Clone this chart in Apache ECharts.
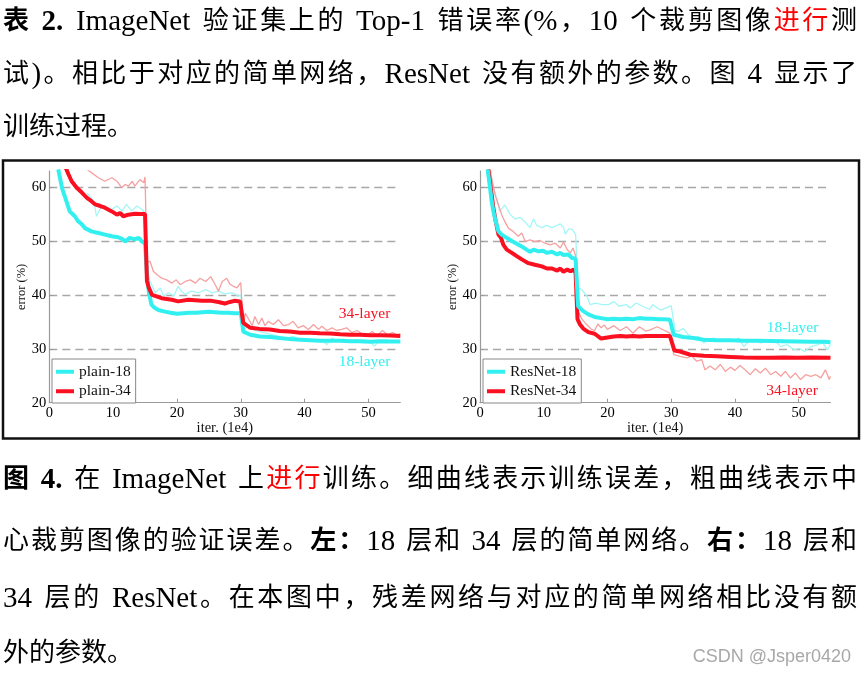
<!DOCTYPE html>
<html>
<head>
<meta charset="utf-8">
<script src="https://cdn.jsdelivr.net/npm/echarts@6/dist/echarts.min.js"></script>
<style>
html,body{margin:0;padding:0;background:#fff;}
#main{width:865px;height:677px;}
</style>
</head>
<body>
<div id="main"></div>
<script>
// ---------- axis ticks ----------
const xTickValues = [0, 10, 20, 30, 40, 50];
const yTickValues = [20, 30, 40, 50, 60];

// ---------- Left chart: plain networks ----------
const plain18ValX = [1.4,2.0,2.5,3.2,4.0,4.5,5.1,5.6,6.6,7.7,8.7,9.8,10.8,11.4,11.9,12.6,13.4,14.0,14.5,15.0,15.3,15.6,16.0,16.5,17.1,18.1,19,20,21,22,23,24,25,26,27,28,29,30.0,30.4,31.5,33.0,34.6,36.1,37.7,39.3,40.9,42.4,44.0,45.6,47.2,48.7,50.3,51.9,53.5,55];
const plain18ValY = [63.3,59.8,58.0,55.5,54.6,53.7,53.1,52.4,51.8,51.5,51.2,50.9,50.7,50.4,49.9,50.6,50.3,50.6,49.95,49.5,44.0,40.5,38.2,37.6,37.2,36.9,36.7,36.5,36.6,36.7,36.7,36.8,36.9,36.8,36.7,36.7,36.6,36.6,33.2,32.6,32.3,32.2,32.0,31.8,31.7,31.6,31.5,31.5,31.5,31.4,31.4,31.3,31.4,31.35,31.35];

const plain34ValX = [2.6,3.0,3.5,4.3,5.1,5.9,6.6,7.2,8.0,8.7,9.8,10.6,11.1,11.6,12.4,13.4,14.2,15.0,15.3,15.6,16.1,17.6,19.2,20.2,21.8,23.9,25.4,26.5,27.5,28.3,29.0,29.9,30.4,31.5,33.0,34.6,36.1,37.7,39.3,40.9,42.4,44.0,45.6,47.2,48.7,50.3,51.9,53.5,55];
const plain34ValY = [63.5,62.4,61.1,59.9,59.0,58.0,57.4,56.8,56.5,56.2,55.5,54.9,55.2,54.6,54.9,55.05,55.0,55.0,42.6,41.3,40.0,39.4,39.1,38.8,39.1,38.9,38.9,38.7,38.4,38.7,38.9,38.8,34.8,33.9,33.7,33.6,33.3,33.2,33.0,33.0,32.9,32.85,32.7,32.6,32.6,32.5,32.5,32.45,32.4];

const plain18TrainX = [5.9,6.6,7.0,7.4,7.95,8.7,9.3,9.8,10.6,11.4,12.1,12.9,13.7,14.5,14.9,15.1,15.5,16.05,16.6,17.4,17.9,18.7,19.5,20.2,20.7,21.3,22.3,23.4,24.5,25.5,26.5,27.5,28.3,28.85,29.6,30.0,30.4,31.2,32.0,33.0,34.0,35.1,36.1,37.2,38.2,39.3,40.3,41.4,42.4,43.5,44.3,45.0,46.1,47.2,48.2,49.3,50.3,50.9,51.7,53.0,54.0,55];
const plain18TrainY = [58.9,58.0,57.2,54.6,56.0,56.5,55.6,55.9,56.5,55.6,56.8,55.6,56.5,55.9,55.3,55.6,43.1,41.9,40.4,41.3,39.8,40.4,39.8,41.6,40.7,40.1,40.7,40.4,41.0,40.4,40.7,40.2,40.4,40.35,39.75,40.0,33.5,34.4,33.5,33.2,32.9,32.6,32.2,32.0,32.3,31.7,31.8,31.6,31.7,30.8,32.0,31.4,31.8,31.4,31.7,31.1,31.4,30.5,31.4,31.6,31.2,31.4];

const plain34TrainX = [5.9,6.6,7.7,8.7,9.8,10.6,11.35,11.9,12.4,13.0,13.4,14.2,14.8,15.0,15.3,15.8,16.3,16.85,17.6,18.4,19.2,19.9,20.5,21.3,22.1,22.9,23.6,24.5,25.3,26.0,26.5,27.1,27.8,28.3,28.85,29.4,30.0,30.4,30.7,31.3,31.8,32.2,32.8,33.3,33.8,34.3,35.1,35.9,36.7,37.5,38.2,39.0,39.8,40.6,41.4,42.2,42.7,43.5,44.3,45.0,45.8,46.6,47.4,48.2,49.0,49.8,50.6,51.4,52.2,53.0,53.8,54.5,55];
const plain34TrainY = [63.3,62.7,61.75,61.1,61.75,61.1,59.9,60.5,60.2,61.1,60.2,61.4,60.8,61.9,46.2,46.2,44.4,43.8,43.1,42.8,42.2,42.8,41.9,42.5,42.8,42.2,43.1,42.5,43.4,41.9,40.7,42.5,43.1,42.0,41.6,41.3,42.3,34.1,36.6,35.4,34.3,36.0,34.5,35.7,34.3,35.1,34.5,35.4,34.3,34.5,35.1,33.9,34.3,33.6,34.5,33.6,34.2,33.4,33.9,33.4,33.6,33.9,33.0,33.4,32.8,32.5,33.2,32.4,33.4,32.6,33.0,32.6,32.8];

// ---------- Right chart: ResNets ----------
const res18ValX = [1.2,1.57,1.83,2.1,2.46,2.9,3.4,4.2,5.0,5.76,6.55,7.3,7.85,8.4,9.2,9.9,10.5,11.3,12.1,12.6,13.1,13.9,14.4,15.0,15.4,16.2,17.0,18.0,19,20,21,22,23,24,25,26,27,28,29,29.8,30.4,31.9,33.5,35.1,37.2,39.3,41.4,43.5,45.6,47.7,49.8,51.9,54.0,55];
const res18ValY = [63.3,59.9,57.4,55.5,53.7,51.8,51.2,50.6,50.0,49.5,49.0,48.4,48.0,48.4,48.1,48.2,47.8,48.0,47.5,47.8,47.4,47.5,46.9,46.7,37.9,37.0,36.4,35.9,35.7,35.5,35.6,35.5,35.6,35.5,35.7,35.6,35.6,35.5,35.5,35.4,32.6,32.2,32.0,31.7,31.6,31.6,31.5,31.5,31.45,31.4,31.35,31.3,31.3,31.2];

const res34ValX = [1.3,1.83,2.1,2.46,2.9,3.3,3.67,4.2,5.0,5.76,6.55,7.6,8.6,9.7,10.5,11.3,12.1,12.6,13.1,13.7,14.2,14.7,15.0,15.3,15.7,16.2,17.0,18.0,19.0,20.0,21,22,23,24,25,26,27,28,29,29.8,30.5,31.4,33.0,35.1,37.2,39.3,41.4,43.5,45.6,47.7,49.8,51.9,55];
const res34ValY = [63.3,58.6,56.1,53.7,51.2,50.6,49.3,48.4,47.8,47.2,46.6,45.9,45.6,45.3,44.9,44.9,44.5,44.9,44.3,44.7,44.4,44.7,44.1,35.5,34.5,33.75,33.1,32.8,31.9,32.1,32.3,32.4,32.3,32.4,32.3,32.4,32.4,32.4,32.4,32.4,29.7,29.5,28.9,28.7,28.6,28.5,28.4,28.35,28.35,28.4,28.35,28.4,28.35];

const res18TrainX = [1.0,1.83,2.6,3.1,3.9,4.7,5.5,6.3,7.1,7.85,8.4,8.9,9.7,10.5,11.3,12.1,12.6,13.1,13.4,13.9,14.4,15.0,15.4,15.96,16.75,17.3,18.1,19.2,20.2,21.0,21.8,22.9,23.6,24.5,25.5,26.6,27.1,28.3,29.6,30.0,30.6,31.1,31.9,32.7,33.5,34.3,35.1,35.9,36.7,37.7,38.8,39.8,40.6,41.4,42.2,42.9,44.0,45.0,46.1,47.2,48.2,49.3,50.1,50.9,51.9,53.0,53.8,54.5,55];
const res18TrainY = [64,61.1,58.0,55.5,56.7,55.0,54.1,54.4,53.5,52.5,54.1,52.9,52.5,52.9,52.5,52.9,53.2,52.5,51.3,52.2,52.2,51.3,41.3,41.0,39.8,38.2,38.5,38.2,38.2,38.8,37.9,38.2,37.6,38.5,37.9,37.3,38.2,37.2,37.8,38.0,33.5,33.2,33.8,32.6,32.0,32.3,31.1,31.7,32.0,31.4,31.7,31.4,32.0,30.4,31.4,31.7,31.1,31.4,31.7,30.4,30.8,29.8,30.1,29.5,30.4,30.8,31.1,29.8,30.8];

const res34TrainX = [1.5,1.83,2.36,2.9,3.4,3.9,4.45,5.2,6.0,6.55,7.1,7.85,8.6,9.4,10.2,11.0,11.8,12.6,13.1,13.7,14.2,14.6,15.0,15.4,16.0,16.5,17.0,17.5,18.0,18.5,19.0,19.5,20.0,21.0,22.0,23.0,24.0,25.0,26.0,26.7,27.8,28.8,29.8,30.4,31.4,32.5,33.2,34.0,34.8,35.3,36.1,36.9,37.7,38.5,39.3,40.0,40.8,41.6,42.4,43.2,44.0,44.8,45.6,46.4,47.2,47.9,48.7,49.5,50.3,51.1,51.9,52.7,53.5,54.2,54.8,55];
const res34TrainY = [64,61.7,58.6,56.7,54.9,53.6,52.4,51.8,50.9,51.5,49.9,50.2,49.9,50.1,49.6,49.3,49.6,48.7,49.8,48.4,47.8,48.7,47.3,37.0,35.5,34.8,34.2,33.6,33.4,34.6,33.9,34.4,33.6,34.3,33.4,34.1,32.9,34.1,33.3,33.5,34.1,33.5,32.9,28.9,28.6,28.3,28.7,27.7,28.0,26.1,26.8,26.1,27.1,25.8,26.6,26.0,26.9,26.1,25.2,26.3,25.5,26.4,25.2,25.8,24.9,25.8,24.6,25.5,24.3,25.2,24.9,25.2,24.6,26.1,24.3,24.9];

// ---------- Text ----------
const topLines = [
  [{t:'表 2.', b:true}, {t:' ImageNet 验证集上的 Top-1 错误率(%，10 个裁剪图像'}, {t:'进行', c:'#ff0000'}, {t:'测'}],
  [{t:'试)。相比于对应的简单网络，ResNet 没有额外的参数。图 4 显示了'}],
  [{t:'训练过程。'}]
];
const bottomLines = [
  [{t:'图 4.', b:true}, {t:' 在 ImageNet 上'}, {t:'进行', c:'#ff0000'}, {t:'训练。细曲线表示训练误差，粗曲线表示中'}],
  [{t:'心裁剪图像的验证误差。'}, {t:'左：', b:true}, {t:'18 层和 34 层的简单网络。'}, {t:'右：', b:true}, {t:'18 层和'}],
  [{t:'34 层的 ResNet。在本图中，残差网络与对应的简单网络相比没有额'}],
  [{t:'外的参数。'}]
];

// ---------- colors ----------
const CYAN = '#33f0f0', RED = '#fa1020', CYAN_T = '#a4f6f6', RED_T = '#f6a0a0';
const SERIF = "'Liberation Serif','Noto Sans CJK SC',serif";
const CJK_SIZE = 26, LATIN_SIZE = 29;

const mctx = document.createElement('canvas').getContext('2d');
function fontStr(size, bold){ return (bold ? 'bold ' : '') + size + 'px ' + SERIF; }
function isCJK(ch){ return ch.charCodeAt(0) >= 0x2E80; }
function layoutLine(segs, x0, x1, y, justify){
  const units = [];
  segs.forEach(s => {
    let buf = '';
    const flush = () => { if (buf) { units.push({t: buf, s, size: LATIN_SIZE}); buf = ''; } };
    for (const ch of s.t) {
      if (ch === ' ') { flush(); units.push({t: ' ', s, space: true, size: LATIN_SIZE}); }
      else if (isCJK(ch)) { flush(); units.push({t: ch, s, size: CJK_SIZE}); }
      else buf += ch;
    }
    flush();
  });
  units.forEach(u => { mctx.font = fontStr(u.size, u.s.b); u.w = mctx.measureText(u.t).width; });
  const total = units.reduce((a, u) => a + u.w, 0);
  const gap = justify ? (x1 - x0 - total) / (units.length - 1) : 0;
  let x = x0;
  const els = [];
  units.forEach(u => {
    if (!u.space) {
      const dy = u.size === LATIN_SIZE ? 0.5 : 0;
      els.push({type: 'text', x: x, y: y + dy, silent: true,
        style: {text: u.t, fill: u.s.c || '#000', font: fontStr(u.size, u.s.b), align: 'left', verticalAlign: 'middle'}});
    }
    x += u.w + gap;
  });
  return els;
}

const graphics = [];
const topY = [22, 75, 128];
topLines.forEach((l, i) => graphics.push(...layoutLine(l, 3, 857, topY[i], i < 2)));
const botY = [480, 542, 599, 654];
bottomLines.forEach((l, i) => graphics.push(...layoutLine(l, 3, 857, botY[i], i < 3)));

function label(text, x, y, color){
  return {type: 'text', x, y, silent: true, z: 50,
    style: {text, fill: color, font: '15.5px ' + SERIF, align: 'center', verticalAlign: 'middle'}};
}
graphics.push(label('34-layer', 364.5, 314, RED));
graphics.push(label('18-layer', 364.5, 362, CYAN));
graphics.push(label('18-layer', 792.5, 328, CYAN));
graphics.push(label('34-layer', 792, 391, RED));
graphics.push({type: 'rect', shape: {x: 3, y: 160.5, width: 856, height: 278}, silent: true, z: 100,
  style: {fill: 'none', stroke: '#111', lineWidth: 2.5}});
graphics.push({type: 'text', x: 851, y: 657, silent: true,
  style: {text: 'CSDN @Jsper0420', fill: '#a8a8a8', font: "18px 'Liberation Sans',sans-serif", align: 'right', verticalAlign: 'middle'}});

// ---------- axes ----------
function xAxisCfg(gi){
  return {type: 'value', gridIndex: gi, min: 0, max: 55, interval: 10,
    axisLine: {show: true, lineStyle: {color: '#999', width: 1.2}},
    axisTick: {show: true, inside: true, length: 4, lineStyle: {color: '#999'}},
    axisLabel: {margin: 3, fontSize: 14.5, color: '#000', fontFamily: SERIF, showMaxLabel: false,
      formatter: v => xTickValues.includes(v) ? String(v) : ''},
    splitLine: {show: false},
    name: 'iter. (1e4)', nameLocation: 'middle', nameGap: 18,
    nameTextStyle: {fontSize: 14.5, color: '#111', fontFamily: SERIF}};
}
function yAxisCfg(gi){
  return {type: 'value', gridIndex: gi, min: 20, max: 63, interval: 10,
    axisLine: {show: true, lineStyle: {color: '#999', width: 1.2}},
    axisTick: {show: true, inside: true, length: 4, lineStyle: {color: '#999'}},
    axisLabel: {margin: 3, fontSize: 14.5, color: '#000', fontFamily: SERIF, showMaxLabel: false,
      formatter: v => yTickValues.includes(v) ? String(v) : ''},
    splitLine: {show: true, showMinLine: false, showMaxLine: false,
      lineStyle: {color: '#a8a8a8', width: 1.3, type: [8, 5]}},
    name: 'error (%)', nameLocation: 'middle', nameGap: 14,
    nameTextStyle: {fontSize: 12.5, color: '#111', fontFamily: SERIF}};
}

function pairs(xs, ys){ return xs.map((x, i) => [x, ys[i]]); }
function line(name, xs, ys, color, width, gi, z){
  return {name, type: 'line', xAxisIndex: gi, yAxisIndex: gi, data: pairs(xs, ys),
    showSymbol: false, symbol: 'none', color, itemStyle: {color},
    lineStyle: {color, width}, z, animation: false, silent: true, clip: true};
}

function legendCfg(names, left){
  return {data: names, left, top: 359, orient: 'vertical', icon: 'rect',
    itemWidth: 18, itemHeight: 4, itemGap: 4, padding: [5, 5, 4, 4],
    borderColor: '#888', borderWidth: 1, backgroundColor: '#fff', selectedMode: false,
    textStyle: {fontSize: 15.5, color: '#111', fontFamily: SERIF}};
}

const option = {
  backgroundColor: '#fff',
  animation: false,
  grid: [
    {left: 49.3, top: 171, width: 351, height: 231.7},
    {left: 480, top: 171, width: 350.5, height: 231.7}
  ],
  xAxis: [xAxisCfg(0), xAxisCfg(1)],
  yAxis: [yAxisCfg(0), yAxisCfg(1)],
  legend: [legendCfg(['plain-18', 'plain-34'], 52), legendCfg(['ResNet-18', 'ResNet-34'], 483)],
  series: [
    line('plain-18 train', plain18TrainX, plain18TrainY, CYAN_T, 1.3, 0, 2),
    line('plain-34 train', plain34TrainX, plain34TrainY, RED_T, 1.3, 0, 2),
    line('plain-18', plain18ValX, plain18ValY, CYAN, 4, 0, 3),
    line('plain-34', plain34ValX, plain34ValY, RED, 4, 0, 4),
    line('ResNet-18 train', res18TrainX, res18TrainY, CYAN_T, 1.3, 1, 2),
    line('ResNet-34 train', res34TrainX, res34TrainY, RED_T, 1.3, 1, 2),
    line('ResNet-34', res34ValX, res34ValY, RED, 4, 1, 3),
    line('ResNet-18', res18ValX, res18ValY, CYAN, 4, 1, 4)
  ],
  graphic: {elements: graphics}
};

const chart = echarts.init(document.getElementById('main'), null, {renderer: 'canvas'});
chart.setOption(option);
</script>
</body>
</html>
